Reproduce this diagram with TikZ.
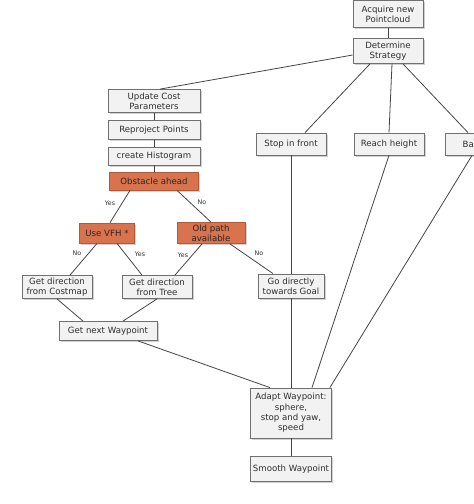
\documentclass[tikz,border=0pt]{standalone}
\usepackage{fontspec}
\setmainfont{DejaVu Sans}
\usepackage{xcolor}
\definecolor{boxfill}{HTML}{F2F2F2}
\definecolor{boxline}{HTML}{707070}
\definecolor{decfill}{HTML}{D9734E}
\definecolor{decline}{HTML}{B05C3C}
\definecolor{wire}{HTML}{454545}
\definecolor{txt}{HTML}{2E2E2E}
\usepackage{tikz}
\usetikzlibrary{shadows, positioning}
\tikzset{
    stepbox/.style={draw=boxline, fill=boxfill, thick, align=center, text=txt,
        font=\fontsize{8.6}{10.4}\selectfont, inner sep=1pt,
        drop shadow={shadow xshift=1.5pt, shadow yshift=-1.5pt, fill=gray!70}},
    decbox/.style={stepbox, draw=decline, fill=decfill, text=black!85},
    wire/.style={draw=wire, thick},
    answer/.style={font=\fontsize{6.3}{7}\selectfont, text=txt}
}
\begin{document}
\begin{tikzpicture}[x=1pt, y=-1pt]
    \useasboundingbox (0,0) rectangle (474,504);
    % right column
    \node[stepbox, minimum width=70, minimum height=27] (acquire) at (388,14) {Acquire new\\Pointcloud};
    \node[stepbox, minimum width=70, minimum height=25] (strategy) at (388,51) {Determine\\Strategy};
    \node[stepbox, minimum width=70, minimum height=22] (stopfront) at (291,144) {Stop in front};
    \node[stepbox, minimum width=70, minimum height=22] (reachheight) at (389,144) {Reach height};
    \node[stepbox, minimum width=70, minimum height=22] (back) at (480,144) {Back off};
    % left column
    \node[stepbox, minimum width=92, minimum height=23] (update) at (154,101) {Update Cost\\Parameters};
    \node[stepbox, minimum width=92, minimum height=19] (reproject) at (154,130) {Reproject Points};
    \node[stepbox, minimum width=92, minimum height=18] (histogram) at (154,156) {create Histogram};
    \node[decbox, minimum width=89, minimum height=18] (obstacle) at (154,181) {Obstacle ahead};
    \node[decbox, minimum width=55, minimum height=20] (usevfh) at (107,233) {Use VFH *};
    \node[decbox, minimum width=68, minimum height=21] (oldpath) at (211,233) {Old path\\available};
    \node[stepbox, minimum width=70, minimum height=23] (costmap) at (57,287) {Get direction\\from Costmap};
    \node[stepbox, minimum width=70, minimum height=23] (tree) at (157,287) {Get direction\\from Tree};
    \node[stepbox, minimum width=66, minimum height=24] (godirect) at (291,286) {Go directly\\towards Goal};
    \node[stepbox, minimum width=98, minimum height=19] (nextwp) at (108,331) {Get next Waypoint};
    \node[stepbox, minimum width=81, minimum height=50] (adapt) at (291,413) {Adapt Waypoint:\\sphere,\\stop and yaw,\\speed};
    \node[stepbox, minimum width=81, minimum height=25] (smooth) at (291,469) {Smooth Waypoint};
    % strategy branches
    \draw[wire] (acquire) -- (strategy);
    \draw[wire] ([yshift=-4]strategy.west) -- ([xshift=6]update.north);
    \draw[wire] ([xshift=-18]strategy.south) -- ([xshift=14]stopfront.north);
    \draw[wire] ([xshift=4]strategy.south) -- (reachheight.north);
    \draw[wire] ([xshift=15]strategy.south) -- ([xshift=-12]back.north);
    \draw[wire] (update) -- (reproject);
    \draw[wire] (reproject) -- (histogram);
    \draw[wire] (histogram) -- (obstacle);
    % decisions
    \draw[wire] ([xshift=-24]obstacle.south) -- ([xshift=3]usevfh.north);
    \draw[wire] ([xshift=23]obstacle.south) -- (oldpath.north);
    \draw[wire] ([xshift=-10]usevfh.south) -- ([xshift=13]costmap.north);
    \draw[wire] ([xshift=10]usevfh.south) -- ([xshift=-15]tree.north);
    \draw[wire] ([xshift=-9]oldpath.south) -- ([xshift=18]tree.north);
    \draw[wire] ([xshift=19]oldpath.south) -- ([xshift=-18]godirect.north);
    \node[answer] (ans1) at (110,203) {Yes};
    \node[answer] (ans2) at (202,202) {No};
    \node[answer] (ans3) at (77,253) {No};
    \node[answer] (ans4) at (140,254) {Yes};
    \node[answer] (ans5) at (183,255) {Yes};
    \node[answer] (ans6) at (259,253) {No};
    % towards the waypoint
    \draw[wire] (costmap.south) -- ([xshift=-25]nextwp.north);
    \draw[wire] (tree.south) -- ([xshift=15]nextwp.north);
    \draw[wire] ([xshift=30]nextwp.south) -- ([xshift=-21]adapt.north);
    \draw[wire] (stopfront) -- (godirect);
    \draw[wire] (godirect) -- (adapt);
    \draw[wire] (reachheight.south) -- ([xshift=21]adapt.north);
    \draw[wire] ([xshift=-8]back.south) -- ([xshift=-2]adapt.north east);
    \draw[wire] (adapt) -- (smooth);
\end{tikzpicture}
\end{document}
